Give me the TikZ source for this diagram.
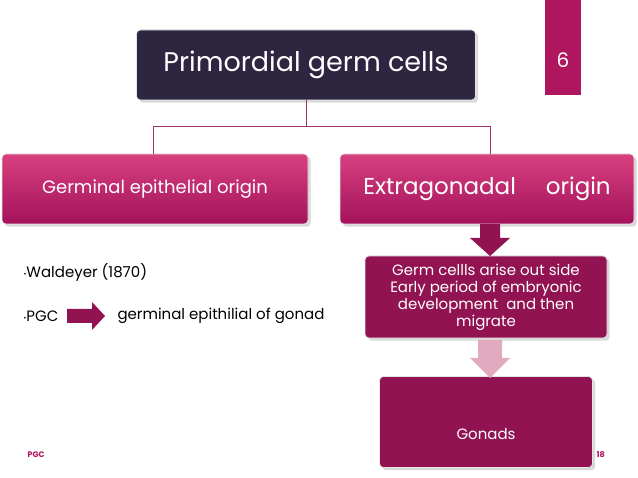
\documentclass[tikz,border=0pt]{standalone}
\usepackage{fontspec}
\setmainfont{Poppins}
\usetikzlibrary{shadows}
\definecolor{darkbox}{HTML}{2E2640}
\definecolor{pinktop}{HTML}{D8407F}
\definecolor{pinkbot}{HTML}{A3125C}
\definecolor{plum}{HTML}{921352}
\definecolor{tab}{HTML}{B0155F}
\definecolor{palepink}{HTML}{E2AABF}
\definecolor{linepink}{HTML}{A0336A}
\tikzset{
  box/.style={draw=white!80!gray, line width=0.6pt, rounded corners=4pt, text=white, align=center, drop shadow={opacity=0.3}},
  pinkbox/.style={box, top color=pinktop, bottom color=pinkbot},
  plumbox/.style={box, fill=plum},
  link/.style={draw=linepink, line width=1pt},
  body/.style={anchor=west, font=\fontsize{15}{17}\selectfont}
}
\newcommand{\blt}{{\fontsize{7}{7}\selectfont\raisebox{1pt}{\textbullet}}}
\begin{document}
\begin{tikzpicture}[x=1pt,y=-1pt]
  \useasboundingbox (0,0) rectangle (638,478);
  % Nodes
  \fill[tab] (545,0) rectangle (581,95);
  \node[text=white, font=\fontsize{20}{22}\selectfont] (num) at (563,60) {6};
  \node[box, fill=darkbox, minimum width=339pt, minimum height=70pt, font=\fontsize{27}{30}\selectfont] (pgc) at (306,65) {Primordial germ cells};
  \node[pinkbox, minimum width=306pt, minimum height=70pt, font=\fontsize{18}{20}\selectfont] (germ) at (155,189) {Germinal epithelial origin};
  \node[pinkbox, minimum width=294pt, minimum height=70pt, font=\fontsize{23}{26}\selectfont] (extra) at (487,189) {Extragonadal\hspace{1.3em}origin};
  \node[plumbox, minimum width=242pt, minimum height=82pt, font=\fontsize{15}{17}\selectfont] (arise) at (486,297) {Germ cellls arise out side\\Early period of embryonic\\development\ \ and then\\migrate};
  \node[plumbox, minimum width=213pt, minimum height=91pt, font=\fontsize{15}{17}\selectfont] (gonads) at (486,422) {\\[18pt]Gonads};
  % Edges
  \coordinate (mid) at (306,127);
  \draw[link] (pgc.south) -- (mid) -| (germ.north -| 153,0);
  \draw[link] (mid) -| (extra.north -| 490,0);
  \fill[plum] (480,224) -- (500,224) -- (500,238) -- (510,238) -- (490,256) -- (470,238) -- (480,238) -- cycle;
  \fill[palepink] (478,340) -- (502,340) -- (502,358) -- (510,358) -- (490,378) -- (470,358) -- (478,358) -- cycle;
  % Side text
  \node[body] (wald) at (20,272) {\blt Waldeyer (1870)};
  \node[body] (p) at (20,316) {\blt PGC};
  \fill[plum] (67,309) -- (92,309) -- (92,302) -- (105,316) -- (92,330) -- (92,323) -- (67,323) -- cycle;
  \node[body] (epi) at (114,316) {germinal epithilial of gonad};
  \node[anchor=west, text=tab, font=\bfseries\fontsize{8}{9}\selectfont] (foot) at (24,455) {PGC};
  \node[anchor=west, text=tab, font=\bfseries\fontsize{8}{9}\selectfont] (page) at (593,455) {18};
\end{tikzpicture}
\end{document}
